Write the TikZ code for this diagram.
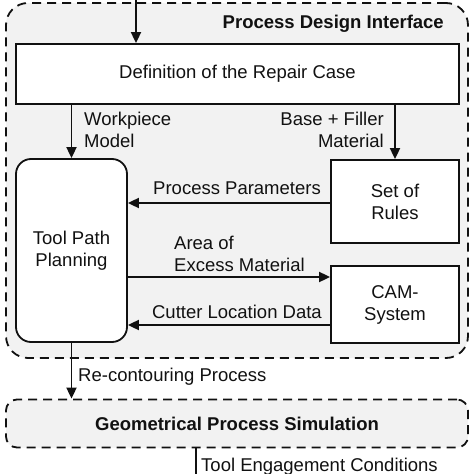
\documentclass[tikz,border=0pt]{standalone}
\usepackage{fontspec}
\setmainfont{Liberation Sans}
\usetikzlibrary{arrows.meta}
\definecolor{panel}{HTML}{F2F2F2}
\definecolor{ink}{HTML}{111111}
\begin{document}
\begin{tikzpicture}[x=1pt,y=-1pt,
  every node/.style={font=\fontsize{18.5}{22}\selectfont, text=ink, inner sep=0pt},
  dashbox/.style={draw=ink, line width=1.8pt, dash pattern=on 9pt off 6pt, fill=panel},
  solidbox/.style={draw=ink, line width=1.8pt, fill=white, align=center},
  conn/.style={draw=ink, line width=1.8pt, -{Triangle[length=11pt,width=10pt]}},
  plain/.style={draw=ink, line width=1.8pt},
  lbl/.style={align=left}]
\useasboundingbox (0,0) rectangle (474,474);
\fill[white] (0,0) rectangle (474,474);
% outer frame
\node[dashbox, rounded corners=22pt, minimum width=462pt, minimum height=355pt] (outer) at (237,180.5) {};
\node[anchor=east, font=\fontsize{18.5}{22}\selectfont\bfseries] (title) at (444,24) {Process Design Interface};
% boxes
\node[solidbox, minimum width=443pt, minimum height=60pt] (def) at (237.5,74) {Definition of the Repair Case};
\node[solidbox, rounded corners=15pt, minimum width=111pt, minimum height=183pt] (tpp) at (71.5,250.5) {Tool Path\\Planning};
\node[solidbox, minimum width=128pt, minimum height=83pt] (rules) at (395,201.5) {Set of\\Rules};
\node[solidbox, minimum width=128pt, minimum height=77pt] (cam) at (395,304.5) {CAM-\\System};
\node[dashbox, rounded corners=11pt, minimum width=462pt, minimum height=48pt, font=\fontsize{18.5}{22}\selectfont\bfseries] (geo) at (237,423.5) {Geometrical Process Simulation};
% free ends
\coordinate (topin) at (136,-5);
\coordinate (botout) at (196,480);
% connectors
\draw[conn] (topin) -- (topin |- def.north);
\draw[conn] (def.south -| tpp.north) -- (tpp.north);
\draw[conn] (def.south -| rules.north) -- (rules.north);
\draw[conn] ([yshift=-1.5pt]rules.west) -- ([yshift=-1.5pt]rules.west -| tpp.east);
\draw[conn] ([yshift=27.5pt]cam.west -| tpp.east) -- ([yshift=27.5pt]cam.west);
\draw[conn] ([yshift=-20.5pt]cam.west) -- ([yshift=-20.5pt]cam.west -| tpp.east);
\draw[conn] (tpp.south) -- (tpp.south |- geo.north);
\draw[plain] (geo.south -| botout) -- (botout);
% labels
\node[lbl, anchor=west] (lwp) at (84,130) {Workpiece\\Model};
\node[align=right, anchor=east] (lbf) at (384,130) {Base + Filler\\Material};
\node[anchor=east] (lpp) at (321,188) {Process Parameters};
\node[lbl, anchor=west] (lae) at (174,254) {Area of\\Excess Material};
\node[anchor=east] (lcl) at (322,312) {Cutter Location Data};
\node[anchor=west] (lrc) at (78,377) {Re-contouring Process};
\node[anchor=west] (lte) at (201,467) {Tool Engagement Conditions};
\end{tikzpicture}
\end{document}
